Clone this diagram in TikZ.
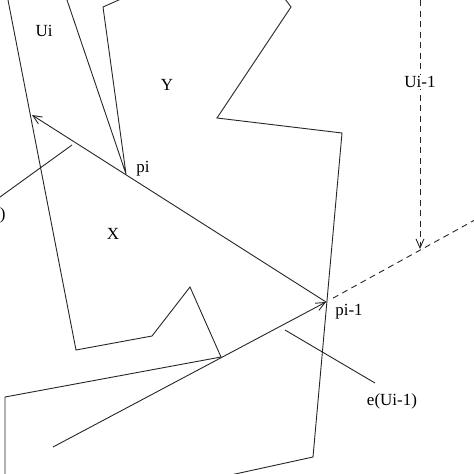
\documentclass[tikz,border=0pt]{standalone}
\usepackage{fontspec}
\setmainfont{Liberation Serif}
\usetikzlibrary{arrows.meta}

\begin{document}
\begin{tikzpicture}[x=1pt, y=-1pt, line width=0.9pt, black!85,
	lbl/.style={text=black, font=\fontsize{17}{20}\selectfont, inner sep=1pt},
	tip/.style={-{Straight Barb[length=9pt, width=8pt]}},
	dashln/.style={dash pattern=on 6pt off 4.5pt}]
	\useasboundingbox (0,0) rectangle (474,474);
	
	% points p_i and p_{i-1}
	\coordinate (pi) at (126,174);
	\coordinate (pim1) at (326,302);
	
	% boundaries
	\draw (8,0) -- (76,350) -- (152,336) -- (190,287) -- (221,357) -- (5,397) -- (5,476);
	\draw (67,0) -- (pi) -- (103,7) -- (121,-1);
	\draw (285,-1) -- (291,7) -- (217,118) -- (342,133) -- (313,457) -- (226,476);
	
	% arrows
	\draw[tip] (pim1) -- (32,115);
	\draw[tip] (53,447) -- (pim1);
	\draw[dashln, shorten <=8pt] (pim1) -- (482,216);
	\draw[dashln, tip] (420,0) -- node[lbl, fill=white, pos=0.33] (Uim1) {Ui-1} (420,249);
	
	% labels
	\node[lbl] (Ui) at (44,31) {Ui};
	\node[lbl] (Y) at (167,85) {Y};
	\node[lbl] (X) at (113,234) {X};
	\node[lbl] (pilbl) at (143,169) {pi};
	\node[lbl] (pim1lbl) at (349,312) {pi-1};
	\node[lbl, anchor=east] (eUi) at (7,215) {e(Ui)};
	\node[lbl] (eUim1) at (392,401) {e(Ui-1)};
	\draw (0,197) -- (72,145);
	\draw (285,330) -- (375,383);
\end{tikzpicture}
\end{document}
